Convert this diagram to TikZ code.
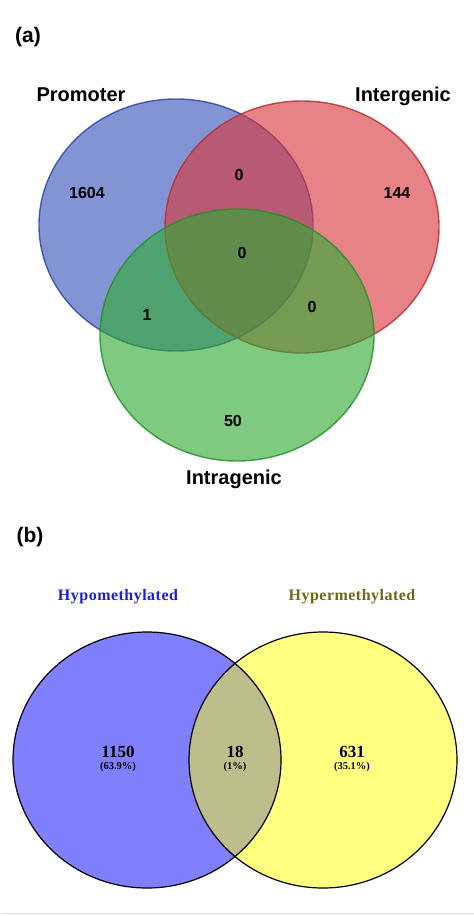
\documentclass[tikz,border=0pt]{standalone}
\usepackage{fontspec}
\setmainfont{Liberation Sans}
\newfontfamily\timesb[LetterSpace=3]{Liberation Serif}
\newfontfamily\timesn{Liberation Serif}

\definecolor{problue}{RGB}{55,83,187}
\definecolor{interred}{RGB}{217,55,60}
\definecolor{intragreen}{RGB}{45,170,50}
\definecolor{hypoblue}{RGB}{128,128,255}
\definecolor{hyperyellow}{RGB}{255,255,128}
\definecolor{bothgray}{RGB}{190,190,140}
\definecolor{hypotext}{RGB}{30,30,215}
\definecolor{hypertext}{RGB}{105,105,25}

\tikzset{
  setfill/.style={fill=#1, fill opacity=0.62, draw=#1!85!black, draw opacity=0.85, line width=1.4pt},
  panel/.style={font=\fontsize{21}{24}\selectfont\bfseries},
  setlabel/.style={font=\fontsize{20}{24}\selectfont\bfseries},
  count/.style={font=\fontsize{16}{19}\selectfont\bfseries},
  hypolabel/.style={font=\timesb\fontsize{16}{19}\selectfont\bfseries},
  bignum/.style={font=\timesn\fontsize{17}{19}\selectfont\bfseries},
  pct/.style={font=\timesn\fontsize{10.5}{12}\selectfont\bfseries}
}

\begin{document}
\begin{tikzpicture}[x=1pt, y=-1pt, line join=round]
  \useasboundingbox (0,0) rectangle (474,916);
  % Ellipse radii, shared by all sets
  \def\rxa{137pt} \def\rya{126pt}
  \def\rxb{134pt} \def\ryb{128pt}

  % (a) three-set diagram
  \node[panel] (tagA) at (28,37) {(a)};
  \filldraw[setfill=problue]    (176,225) ellipse [x radius=\rxa, y radius=\rya];
  \filldraw[setfill=interred]   (302,227) ellipse [x radius=\rxa, y radius=\rya];
  \filldraw[setfill=intragreen] (237,335) ellipse [x radius=\rxa, y radius=\rya];

  \node[setlabel] (promoter)   at (81,95)  {Promoter};
  \node[setlabel] (intergenic) at (403,96) {Intergenic};
  \node[setlabel] (intragenic) at (234,479) {Intragenic};

  \node[count] (onlypro)   at (87,193)  {1604};
  \node[count] (prointer)  at (239,175) {0};
  \node[count] (onlyinter) at (397,193) {144};
  \node[count] (allthree)  at (242,253) {0};
  \node[count] (prointra)  at (147,315) {1};
  \node[count] (interintra) at (312,307) {0};
  \node[count] (onlyintra) at (233,421) {50};

  % (b) two-set diagram
  \node[panel] (tagB) at (30,537) {(b)};
  \fill[hypoblue]    (147,760) ellipse [x radius=\rxb, y radius=\ryb];
  \fill[hyperyellow] (323,760) ellipse [x radius=\rxb, y radius=\ryb];
  \begin{scope}
    \clip (147,760) ellipse [x radius=\rxb, y radius=\ryb];
    \fill[bothgray] (323,760) ellipse [x radius=\rxb, y radius=\ryb];
  \end{scope}
  \draw[line width=1.2pt] (147,760) ellipse [x radius=\rxb, y radius=\ryb];
  \draw[line width=1.2pt] (323,760) ellipse [x radius=\rxb, y radius=\ryb];

  \node[hypolabel, text=hypotext]  (hypo)  at (118,597) {Hypomethylated};
  \node[hypolabel, text=hypertext] (hyper) at (352,597) {Hypermethylated};

  \node[bignum] (onlyhypo)  at (118,752) {1150};
  \node[pct]    (onlyhypop) at (118,767) {(63.9\%)};
  \node[bignum] (both)      at (235,752) {18};
  \node[pct]    (bothp)     at (235,767) {(1\%)};
  \node[bignum] (onlyhyper) at (352,752) {631};
  \node[pct]    (onlyhyperp) at (352,767) {(35.1\%)};

  % faint frame edge at the bottom
  \draw[black!12, line width=1pt] (2,913.5) -- (474,913.5);
\end{tikzpicture}
\end{document}
